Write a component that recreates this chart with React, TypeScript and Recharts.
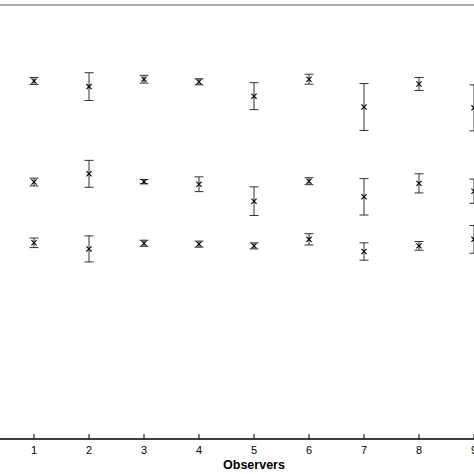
import React from 'react';
import { ComposedChart, Scatter, XAxis, YAxis, ErrorBar } from 'recharts';

const observers = [1, 2, 3, 4, 5, 6, 7, 8, 9];
const xTicks = [1, 2, 3, 4, 5, 6, 7, 8, 9];

const topMean = [82.5, 81.2, 82.9, 82.3, 79.0, 82.9, 76.5, 81.8, 76.3];
const topErr = [0.8, 3.2, 0.9, 0.7, 3.1, 1.15, 5.4, 1.5, 5.3];
const midMean = [59.2, 61.1, 59.3, 58.7, 54.8, 59.4, 55.8, 58.9, 57.1];
const midErr = [0.9, 3.1, 0.5, 1.7, 3.3, 0.8, 4.2, 2.2, 2.8];
const lowMean = [45.2, 43.8, 45.1, 44.9, 44.5, 46.0, 43.2, 44.5, 46.0];
const lowErr = [1.1, 3.0, 0.7, 0.7, 0.7, 1.3, 2.0, 1.0, 3.2];

const build = (mean: number[], err: number[]) =>
  observers.map((o, i) => ({ x: o, y: mean[i], err: err[i] }));

const topData = build(topMean, topErr);
const midData = build(midMean, midErr);
const lowData = build(lowMean, lowErr);

const Cross = (props: any) => {
  const { cx, cy } = props;
  if (cx == null || cy == null) return null;
  const s = 2.6;
  return (
    <path
      d={`M${cx - s},${cy - s}L${cx + s},${cy + s}M${cx - s},${cy + s}L${cx + s},${cy - s}`}
      stroke="#000"
      strokeWidth={1.1}
      fill="none"
    />
  );
};

const font = 'Liberation Sans, Arial, Helvetica, sans-serif';

export default function App() {
  return (
    <div
      style={{
        position: 'absolute',
        left: 0,
        top: 0,
        width: 474,
        height: 474,
        overflow: 'hidden',
        background: '#fff',
      }}
    >
      <div style={{ position: 'absolute', left: -21, top: 0 }}>
        <ComposedChart
          width={550}
          height={474}
          margin={{ top: 0, right: 0, bottom: 0, left: 0 }}
          style={{ fontFamily: font }}
        >
          <XAxis
            xAxisId="top"
            orientation="top"
            type="number"
            dataKey="x"
            domain={[0, 10]}
            ticks={xTicks}
            interval={0}
            height={5}
            tick={false}
            tickSize={-5}
            axisLine={{ stroke: '#555', strokeWidth: 1 }}
            tickLine={{ stroke: '#555', strokeWidth: 1 }}
            allowDataOverflow
          />
          <XAxis
            type="number"
            dataKey="x"
            domain={[0, 10]}
            ticks={xTicks}
            interval={0}
            height={35}
            tickSize={-5}
            tickMargin={12}
            tick={{ fill: '#000', fontSize: 11, fontFamily: font }}
            axisLine={{ stroke: '#000', strokeWidth: 1.3 }}
            tickLine={{ stroke: '#000', strokeWidth: 1 }}
            allowDataOverflow
            label={{
              value: 'Observers',
              position: 'insideBottom',
              offset: 5,
              fill: '#000',
              fontSize: 12.5,
              fontWeight: 'bold',
              fontFamily: font,
            }}
          />
          <YAxis type="number" dataKey="y" domain={[0, 100]} hide allowDataOverflow />
          <Scatter data={topData} shape={<Cross />} isAnimationActive={false}>
            <ErrorBar dataKey="err" direction="y" width={4.5} stroke="#333" strokeWidth={1} />
          </Scatter>
          <Scatter data={midData} shape={<Cross />} isAnimationActive={false}>
            <ErrorBar dataKey="err" direction="y" width={4.5} stroke="#333" strokeWidth={1} />
          </Scatter>
          <Scatter data={lowData} shape={<Cross />} isAnimationActive={false}>
            <ErrorBar dataKey="err" direction="y" width={4.5} stroke="#333" strokeWidth={1} />
          </Scatter>
        </ComposedChart>
      </div>
    </div>
  );
}
